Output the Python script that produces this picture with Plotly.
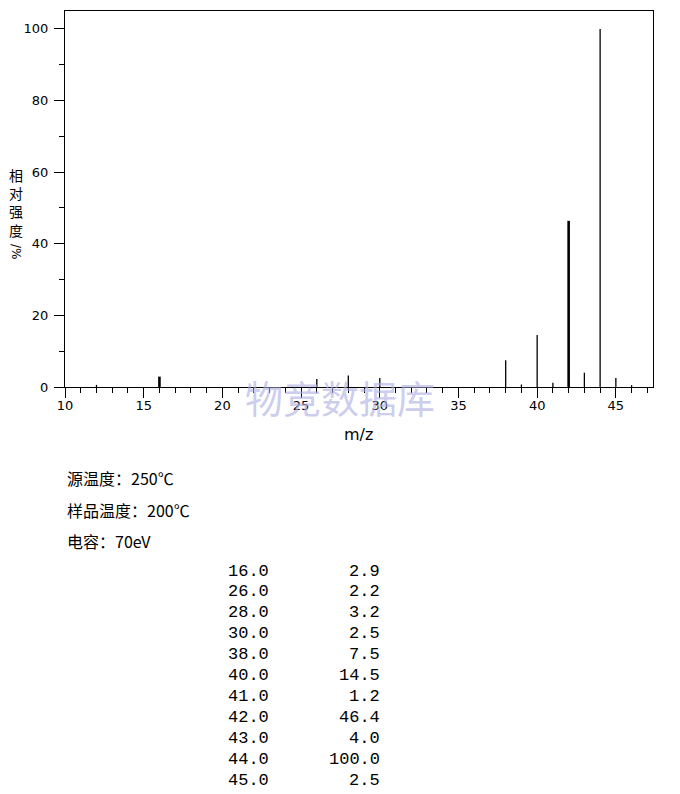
import plotly.graph_objects as go

# --- data ---
mz = [12, 16, 26, 28, 30, 38, 39, 40, 41, 42, 43, 44, 45, 46]
intensity = [0.6, 2.9, 2.2, 3.2, 2.5, 7.5, 0.7, 14.5, 1.2, 46.4, 4.0, 100.0, 2.5, 0.5]
thick_mz = [16, 42]

table_mz = ["16.0", "26.0", "28.0", "30.0", "38.0", "40.0", "41.0", "42.0", "43.0", "44.0", "45.0"]
table_int = ["2.9", "2.2", "3.2", "2.5", "7.5", "14.5", "1.2", "46.4", "4.0", "100.0", "2.5"]
info_lines = ["源温度：250℃", "样品温度：200℃", "电容：70eV"]
ylabel_chars = ["相", "对", "强", "度"]

W, H = 680, 794
OFF = 8  # page body margin
L, R, T, B = 65 - OFF, 653 - OFF, 11 - OFF, 387 - OFF  # plot area pixels (in figure)
PW, PH = R - L, B - T


def px(x):
    return (x - OFF - L) / PW


def py(y):
    return (B - (y - OFF)) / PH


def sticks(xs, ys):
    X, Y = [], []
    for x, y in zip(xs, ys):
        X += [x, x, None]
        Y += [0, y, None]
    return X, Y


fig = go.Figure()
thin = [(x, y) for x, y in zip(mz, intensity) if x not in thick_mz]
thick = [(x, y) for x, y in zip(mz, intensity) if x in thick_mz]
X1, Y1 = sticks([a for a, _ in thin], [b for _, b in thin])
X2, Y2 = sticks([a for a, _ in thick], [b for _, b in thick])
fig.add_trace(go.Scatter(x=X1, y=Y1, mode="lines", line=dict(color="black", width=1.3),
                         hoverinfo="skip", showlegend=False))
fig.add_trace(go.Scatter(x=X2, y=Y2, mode="lines", line=dict(color="black", width=2.6),
                         hoverinfo="skip", showlegend=False))

axis_font = dict(family="DejaVu Sans", size=13, color="black")
fig.update_xaxes(range=[10, 47.36], dtick=5, tick0=10, ticks="outside", ticklen=10,
                 tickcolor="black", tickwidth=1, showline=True, linecolor="black",
                 linewidth=1, mirror=True, showgrid=False, zeroline=False,
                 tickfont=axis_font, ticklabelstandoff=-4,
                 minor=dict(dtick=1, ticklen=5, ticks="outside", tickcolor="black", showgrid=False))
fig.update_yaxes(range=[0, 105], dtick=20, tick0=0, ticks="outside", ticklen=10,
                 tickcolor="black", tickwidth=1, showline=True, linecolor="black",
                 linewidth=1, mirror=True, showgrid=False, zeroline=False,
                 tickfont=axis_font, ticklabelstandoff=3,
                 minor=dict(dtick=10, ticklen=5, ticks="outside", tickcolor="black", showgrid=False))

ann = []


def add(text, x, y, size, family, xanchor="center", **kw):
    ann.append(dict(text=text, x=px(x), y=py(y), xref="paper", yref="paper",
                    xanchor=xanchor, yanchor="middle", showarrow=False, borderpad=0,
                    font=dict(family=family, size=size, color=kw.pop("color", "black")), **kw))


# watermark (first, so other texts sit above it)
add("物竞数据库", 340, 396, 38, "Noto Sans CJK SC", color="rgba(175,175,228,0.65)")
# axis titles
add("m/z", 358, 434, 16, "DejaVu Sans")
add("<br>".join(ylabel_chars), 16, 202.5, 14, "Noto Sans CJK SC", align="center")
add("/%", 16, 251, 12, "DejaVu Sans", textangle=90)
# info lines
for i, s in enumerate(info_lines):
    add(s, 66, 478 + i * 31.5, 16, "Noto Sans CJK SC", xanchor="left")
# table
for i, (a, b) in enumerate(zip(table_mz, table_int)):
    yy = 571 + i * 20.9
    add(a, 270, yy, 17, "Liberation Mono", xanchor="right")
    add(b, 381, yy, 17, "Liberation Mono", xanchor="right")

fig.update_layout(width=W, height=H, margin=dict(l=L, r=W - R, t=T, b=H - B, pad=0),
                  plot_bgcolor="white", paper_bgcolor="white", annotations=ann,
                  showlegend=False)
fig.write_html("out.html")
